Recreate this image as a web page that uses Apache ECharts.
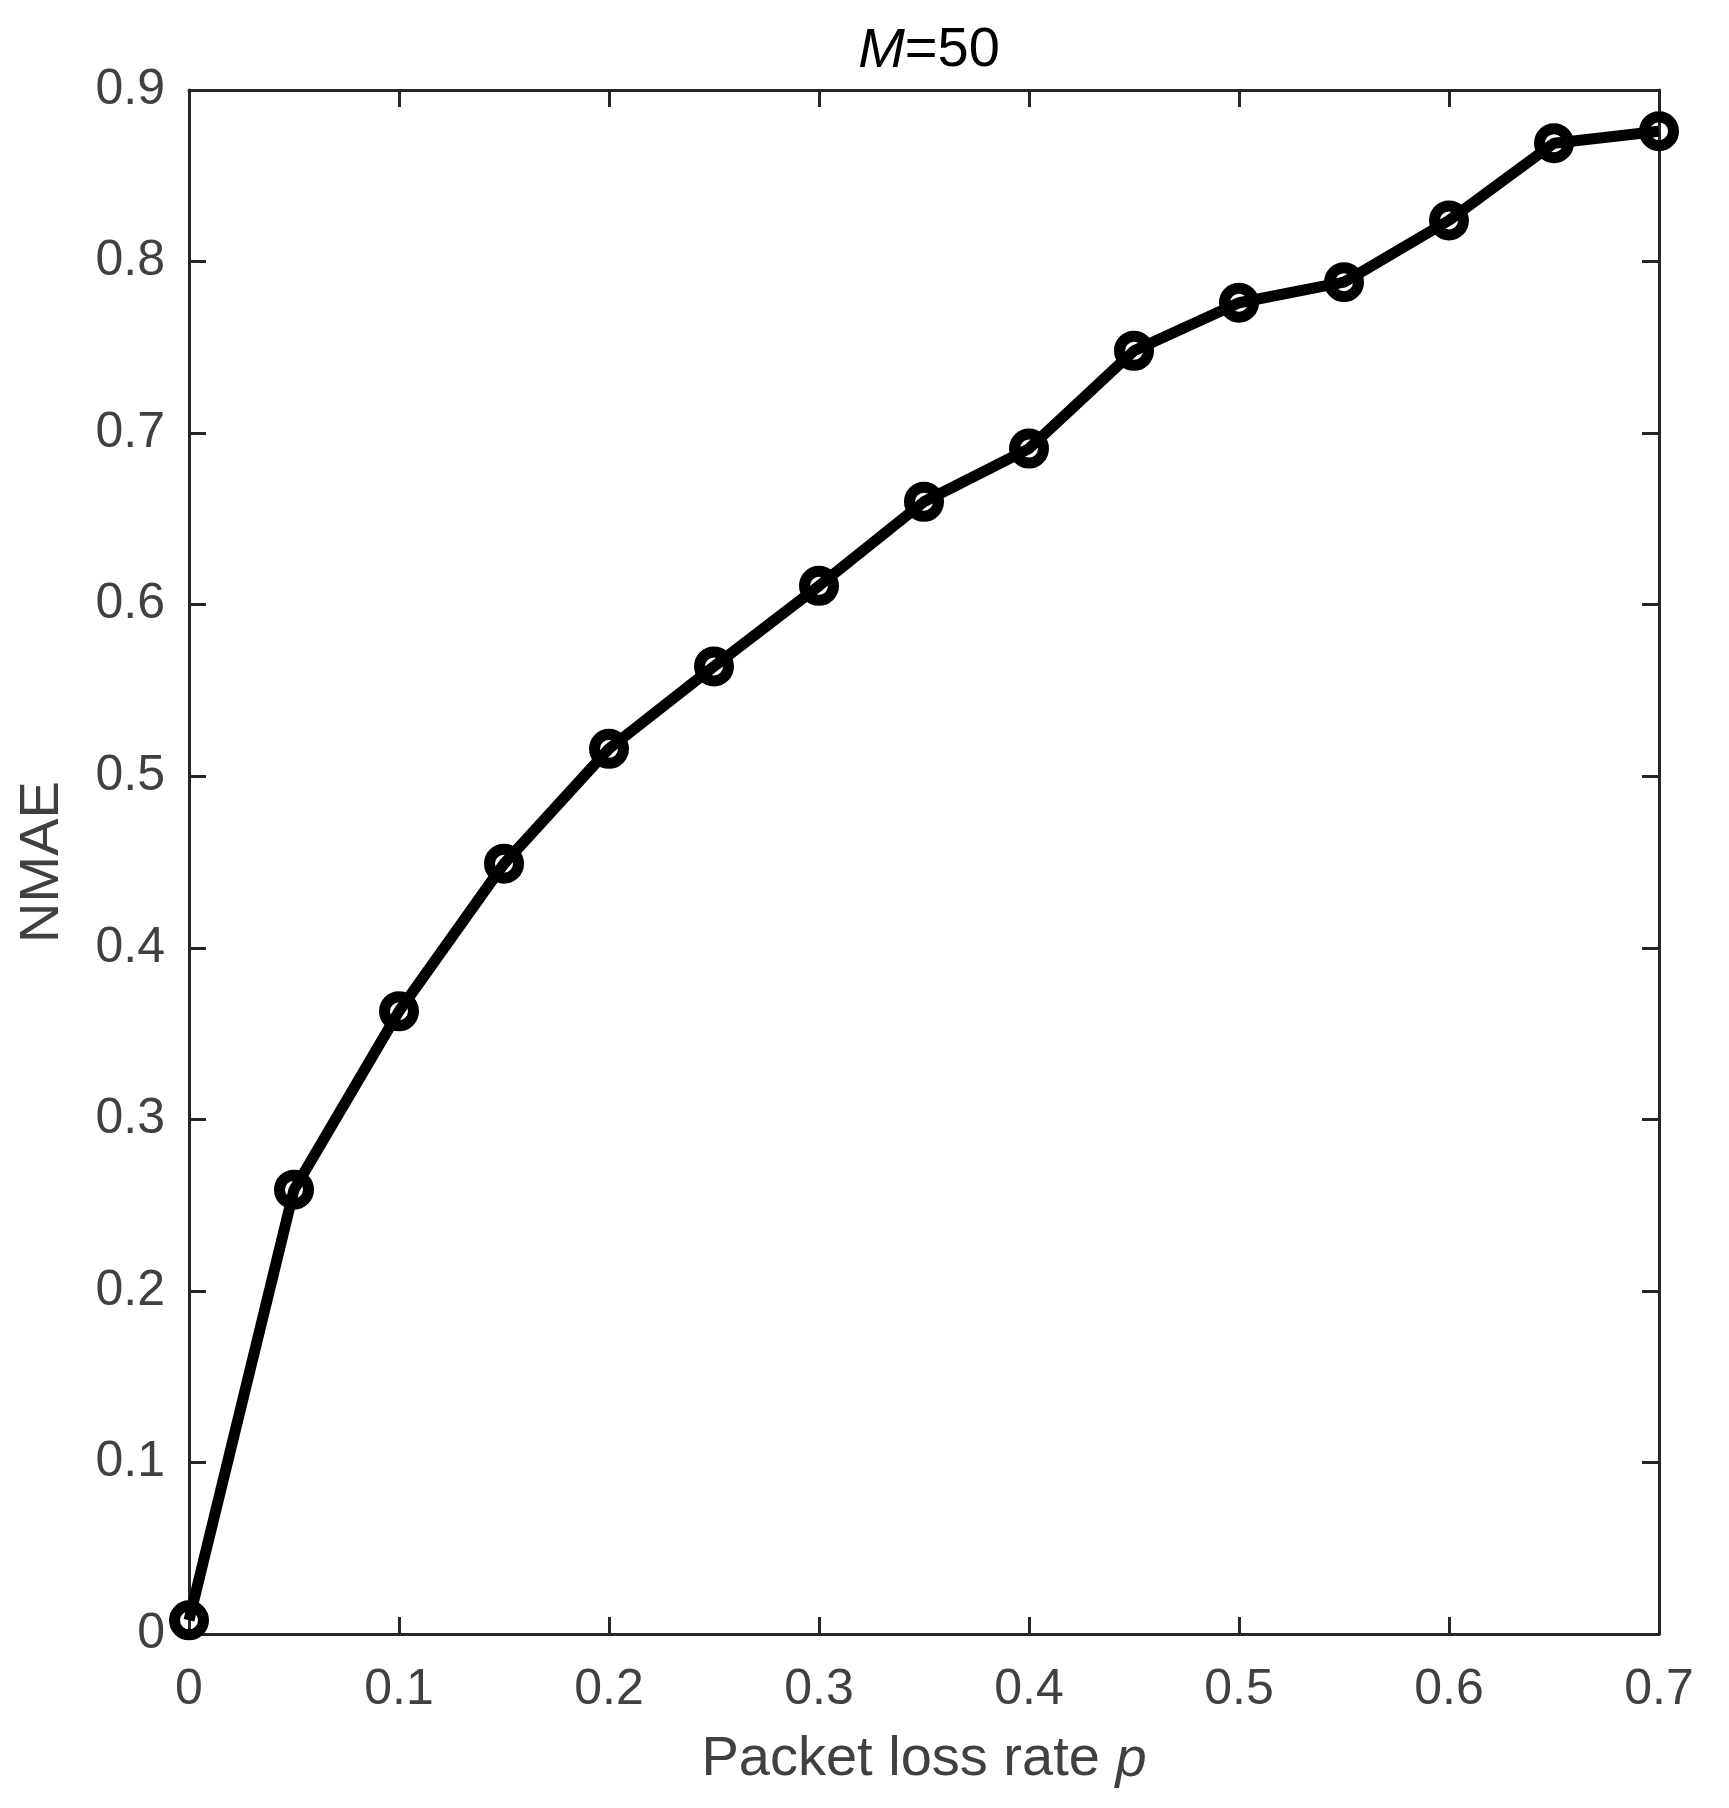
<!DOCTYPE html>
<html>
<head>
<meta charset="utf-8">
<script src="https://cdn.jsdelivr.net/npm/echarts@6/dist/echarts.min.js"></script>
<style>html,body{margin:0;padding:0;background:#fff;}#c{width:1729px;height:1808px;}</style>
</head>
<body>
<div id="c"></div>
<script>
const pValues = [0, 0.05, 0.1, 0.15, 0.2, 0.25, 0.3, 0.35, 0.4, 0.45, 0.5, 0.55, 0.6, 0.65, 0.7];
const nmaeValues = [0.008, 0.259, 0.363, 0.449, 0.516, 0.564, 0.611, 0.660, 0.691, 0.748, 0.776, 0.788, 0.824, 0.869, 0.876];
const xTickLabels = ['0', '0.1', '0.2', '0.3', '0.4', '0.5', '0.6', '0.7'];
const yTickLabels = ['0', '0.1', '0.2', '0.3', '0.4', '0.5', '0.6', '0.7', '0.8', '0.9'];

const FONT = '"Liberation Sans", Arial, Helvetica, sans-serif';
const AX = '#262626';
const TXT = '#404040';

const chart = echarts.init(document.getElementById('c'), null, {renderer: 'canvas'});
const axisCommon = {
  axisLine: {show: true, onZero: false, lineStyle: {color: AX, width: 3}},
  axisTick: {show: true, inside: true, length: 17, lineStyle: {color: AX, width: 3}},
  splitLine: {show: false}
};
const data = pValues.map((p, i) => [p, nmaeValues[i]]);
chart.setOption({
  animation: false,
  backgroundColor: '#fff',
  title: {
    text: '{i|M}=50',
    left: 924, top: 18, textAlign: 'center',
    textStyle: {
      fontFamily: FONT, fontSize: 56, fontWeight: 'normal', color: '#000',
      rich: {i: {fontFamily: FONT, fontSize: 56, fontStyle: 'italic', color: '#000'}}
    }
  },
  grid: {left: 189, top: 90, right: 70, bottom: 174, containLabel: false},
  xAxis: [
    Object.assign({
      type: 'value', min: 0, max: 0.7, interval: 0.1, position: 'bottom',
      name: 'Packet loss rate {i|p}', nameLocation: 'middle', nameGap: 98,
      nameTextStyle: {
        fontFamily: FONT, fontSize: 56, color: TXT,
        rich: {i: {fontFamily: FONT, fontSize: 56, fontStyle: 'italic', color: TXT}}
      },
      axisLabel: {
        show: true, margin: 31, fontFamily: FONT, fontSize: 50, color: TXT,
        formatter: v => xTickLabels[Math.round(v * 10)] ?? ''
      }
    }, axisCommon),
    Object.assign({
      type: 'value', min: 0, max: 0.7, interval: 0.1, position: 'top',
      axisLabel: {show: false}
    }, axisCommon)
  ],
  yAxis: [
    Object.assign({
      type: 'value', min: 0, max: 0.9, interval: 0.1, position: 'left',
      name: 'NMAE', nameLocation: 'middle', nameGap: 118, nameRotate: 90,
      nameTextStyle: {fontFamily: FONT, fontSize: 56, color: TXT},
      axisLabel: {
        show: true, margin: 24, fontFamily: FONT, fontSize: 50, color: TXT,
        formatter: v => yTickLabels[Math.round(v * 10)] ?? ''
      }
    }, axisCommon),
    Object.assign({
      type: 'value', min: 0, max: 0.9, interval: 0.1, position: 'right',
      axisLabel: {show: false}
    }, axisCommon)
  ],
  series: [{
    type: 'line',
    data: data,
    xAxisIndex: 0, yAxisIndex: 0,
    clip: false,
    symbol: 'circle',
    symbolSize: 29,
    showAllSymbol: true,
    lineStyle: {color: '#000', width: 11},
    itemStyle: {color: 'rgba(0,0,0,0)', borderColor: '#000', borderWidth: 11},
    z: 5
  }]
});
</script>
</body>
</html>
